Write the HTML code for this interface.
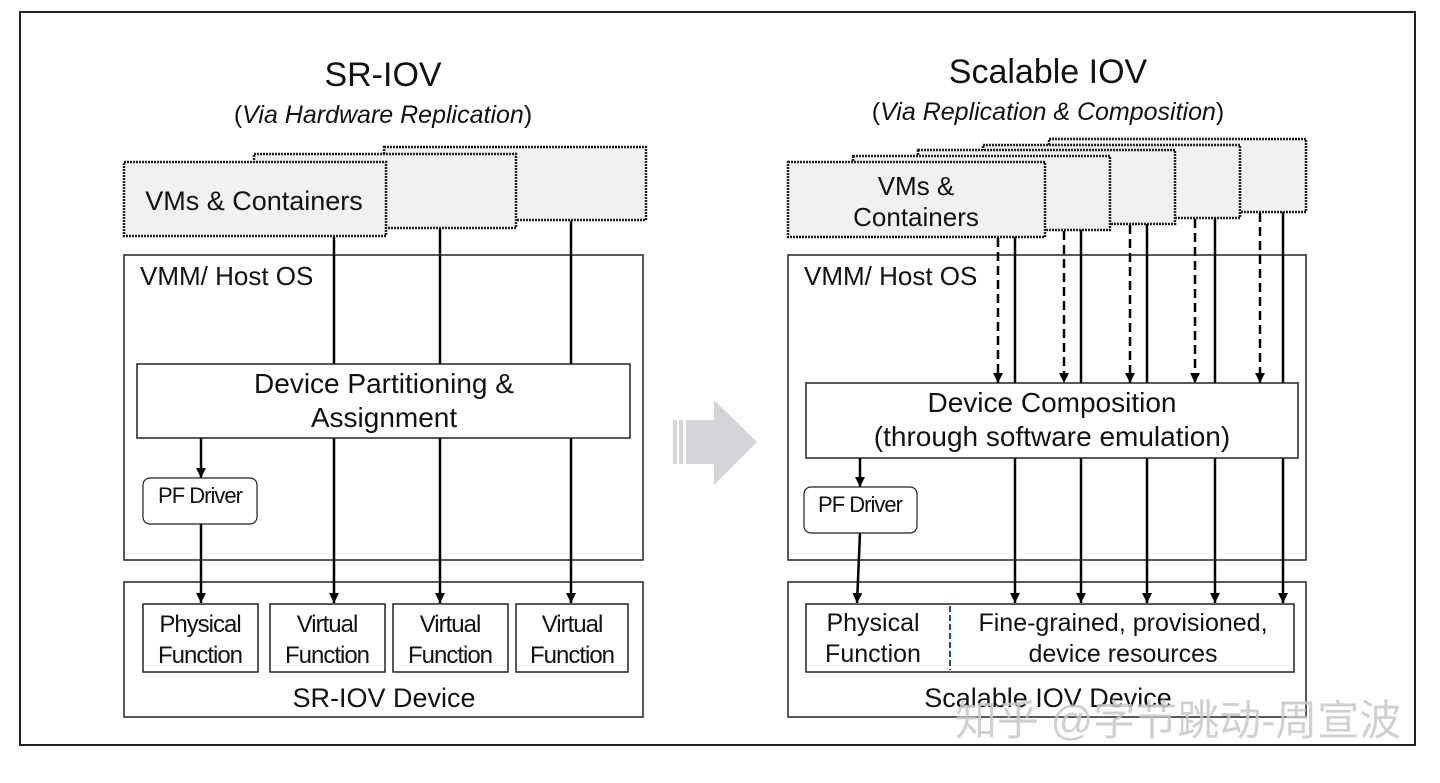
<!DOCTYPE html>
<html><head><meta charset="utf-8"><style>
body{margin:0;background:#fff}
svg text{font-family:"Liberation Sans","Noto Sans CJK SC",sans-serif;fill:#111}
</style></head><body>
<svg width="1440" height="778" viewBox="0 0 1440 778" xmlns="http://www.w3.org/2000/svg">
<defs><marker id="a" markerWidth="10" markerHeight="10" refX="10" refY="5" orient="auto" markerUnits="userSpaceOnUse" viewBox="0 0 10 10"><path d="M0,0 L10,5 L0,10z" fill="#000"/></marker></defs>
<rect x="20" y="12" width="1395" height="733" fill="#fff" stroke="#222" stroke-width="2"/>
<!-- LEFT -->
<text x="383" y="86" font-size="34" text-anchor="middle">SR-IOV</text>
<text x="383" y="123" font-size="25" text-anchor="middle">(<tspan font-style="italic">Via Hardware Replication</tspan>)</text>
<g fill="#f0f1f2" stroke="#222" stroke-width="2.5" stroke-dasharray="2 1">
<rect x="384" y="147" width="262" height="73"/>
<rect x="254" y="154" width="262" height="74"/>
<rect x="124" y="162" width="262" height="74"/>
</g>
<text x="254" y="210" font-size="27" text-anchor="middle">VMs &amp; Containers</text>
<rect x="124" y="255" width="519" height="305" fill="none" stroke="#222" stroke-width="1.5"/>
<text x="140" y="285" font-size="26">VMM/ Host OS</text>
<rect x="124" y="582" width="519" height="135" fill="none" stroke="#222" stroke-width="1.5"/>
<g stroke="#000" stroke-width="2.5" marker-end="url(#a)">
<line x1="334" y1="237" x2="334" y2="603"/>
<line x1="440" y1="229" x2="440" y2="603"/>
<line x1="571" y1="221" x2="571" y2="603"/>
<line x1="201" y1="438" x2="201" y2="478"/>
<line x1="201" y1="524" x2="201" y2="603"/>
</g>
<rect x="137" y="364" width="493" height="74" fill="#fff" stroke="#222" stroke-width="1.5"/>
<text x="384" y="393" font-size="28" text-anchor="middle">Device Partitioning &amp;</text>
<text x="384" y="427" font-size="28" text-anchor="middle">Assignment</text>
<rect x="143" y="478" width="114" height="46" rx="7" fill="#fff" stroke="#222" stroke-width="1.2"/>
<text x="200" y="503" font-size="22" text-anchor="middle" letter-spacing="-1">PF Driver</text>
<g fill="none" stroke="#222" stroke-width="1.5">
<rect x="143" y="604" width="115" height="68"/><rect x="270" y="604" width="115" height="68"/>
<rect x="393" y="604" width="115" height="68"/><rect x="516" y="604" width="112" height="68"/>
</g>
<g font-size="24" text-anchor="middle" letter-spacing="-1">
<text x="200" y="632">Physical</text><text x="200" y="663">Function</text>
<text x="327" y="632">Virtual</text><text x="327" y="663">Function</text>
<text x="450" y="632">Virtual</text><text x="450" y="663">Function</text>
<text x="572" y="632">Virtual</text><text x="572" y="663">Function</text>
</g>
<text x="384" y="707" font-size="27" text-anchor="middle">SR-IOV Device</text>
<!-- ARROW -->
<g fill="#d3d5d8"><rect x="673" y="420" width="4" height="44"/><rect x="679" y="420" width="4" height="44"/><rect x="686" y="420" width="30" height="44"/><path d="M714,400 L757,442 L714,485z"/></g>
<!-- RIGHT -->
<text x="1048" y="83" font-size="34" text-anchor="middle">Scalable IOV</text>
<text x="1048" y="120" font-size="25" text-anchor="middle">(<tspan font-style="italic">Via Replication &amp; Composition</tspan>)</text>
<g fill="#f0f1f2" stroke="#222" stroke-width="2.5" stroke-dasharray="2 1">
<rect x="1049" y="139" width="257" height="73"/>
<rect x="983" y="145" width="257" height="73"/>
<rect x="918" y="150" width="257" height="74"/>
<rect x="853" y="156" width="257" height="74"/>
<rect x="788" y="162" width="257" height="75"/>
</g>
<text x="916" y="195" font-size="26" text-anchor="middle">VMs &amp;</text>
<text x="916" y="226" font-size="26" text-anchor="middle">Containers</text>
<rect x="788" y="255" width="518" height="305" fill="none" stroke="#222" stroke-width="1.5"/>
<text x="804" y="285" font-size="26">VMM/ Host OS</text>
<rect x="788" y="582" width="518" height="135" fill="none" stroke="#222" stroke-width="1.5"/>
<g stroke="#000" stroke-width="2.5" marker-end="url(#a)">
<line x1="1015" y1="237" x2="1015" y2="603"/>
<line x1="1081" y1="230" x2="1081" y2="603"/>
<line x1="1147" y1="224" x2="1147" y2="603"/>
<line x1="1215" y1="218" x2="1215" y2="603"/>
<line x1="1283" y1="212" x2="1283" y2="603"/>
<line x1="860" y1="458" x2="860" y2="487"/>
<line x1="860" y1="533" x2="857" y2="603"/>
</g>
<g stroke="#000" stroke-width="2.5" stroke-dasharray="9 5" marker-end="url(#a)">
<line x1="998" y1="238" x2="998" y2="383"/>
<line x1="1064" y1="231" x2="1064" y2="383"/>
<line x1="1130" y1="225" x2="1130" y2="383"/>
<line x1="1195" y1="219" x2="1195" y2="383"/>
<line x1="1260" y1="213" x2="1260" y2="383"/>
</g>
<rect x="806" y="383" width="492" height="75" fill="#fff" stroke="#222" stroke-width="1.5"/>
<text x="1052" y="412" font-size="28" text-anchor="middle">Device Composition</text>
<text x="1052" y="446" font-size="28" text-anchor="middle">(through software emulation)</text>
<rect x="804" y="487" width="113" height="46" rx="7" fill="#fff" stroke="#222" stroke-width="1.2"/>
<text x="860" y="512" font-size="22" text-anchor="middle" letter-spacing="-1">PF Driver</text>
<rect x="806" y="604" width="488" height="68" fill="none" stroke="#222" stroke-width="1.5"/>
<line x1="950" y1="606" x2="950" y2="670" stroke="#1f4e79" stroke-width="2" stroke-dasharray="6 3"/>
<text x="873" y="631" font-size="25" text-anchor="middle">Physical</text>
<text x="873" y="662" font-size="25" text-anchor="middle">Function</text>
<text x="1123" y="631" font-size="25" text-anchor="middle">Fine-grained, provisioned,</text>
<text x="1123" y="662" font-size="25" text-anchor="middle">device resources</text>
<text x="1048" y="707" font-size="27" text-anchor="middle">Scalable IOV Device</text>
<text x="955" y="735" font-size="42" style="fill:#c8c8c8;opacity:0.85">知乎 @字节跳动-周宣波</text>
</svg>
</body></html>
